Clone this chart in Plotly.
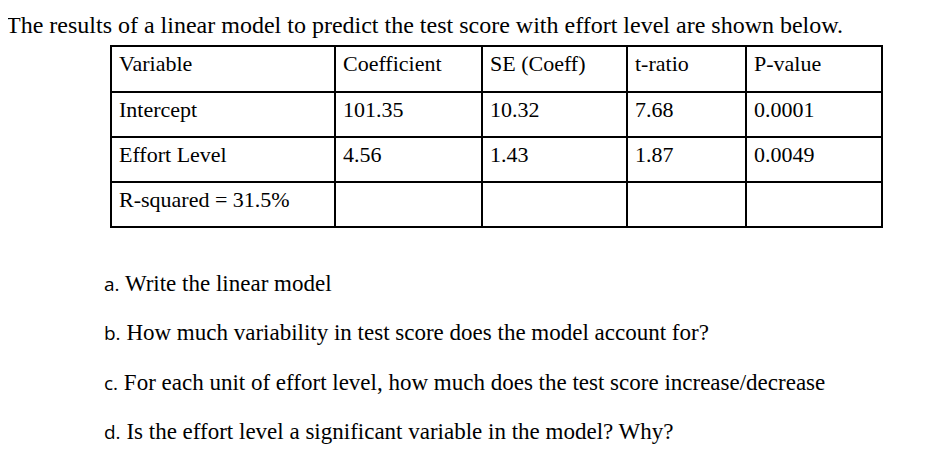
import plotly.graph_objects as go

W, H = 949, 451

title = "The results of a linear model to predict the test score with effort level are shown below."
headers = ["Variable", "Coefficient", "SE (Coeff)", "t-ratio", "P-value"]
variables = ["Intercept", "Effort Level", "R-squared = 31.5%"]
coefficients = ["101.35", "4.56", ""]
se_coeff = ["10.32", "1.43", ""]
t_ratios = ["7.68", "1.87", ""]
p_values = ["0.0001", "0.0049", ""]
col_widths = [224, 147, 145, 119, 136]

letters = ["a.", "b.", "c.", "d."]
questions = [
    "Write the linear model",
    "How much variability in test score does the model account for?",
    "For each unit of effort level, how much does the test score increase/decrease",
    "Is the effort level a significant variable in the model? Why?",
]

serif = "Liberation Serif"

fig = go.Figure(go.Table(
    domain=dict(x=[103 / W, 874 / W], y=[0, 1 - 38 / H]),
    columnwidth=col_widths,
    header=dict(values=headers, height=46, align="left",
                line=dict(color="black", width=2), fill_color="white",
                font=dict(family=serif, size=22, color="black")),
    cells=dict(values=[variables, coefficients, se_coeff, t_ratios, p_values],
               height=45, align="left",
               line=dict(color="black", width=2), fill_color="white",
               font=dict(family=serif, size=22, color="black")),
))

fig.add_annotation(x=-4 / W, y=1 - 17 / H, text=title, showarrow=False,
                   xanchor="left", yanchor="middle", xref="paper", yref="paper",
                   font=dict(family=serif, size=24, color="black"))

for i, (l, q) in enumerate(zip(letters, questions)):
    fig.add_annotation(
        x=94 / W, y=1 - (276 + 49.3 * i) / H, xref="paper", yref="paper",
        text=f"<span style='font-family:Open Sans;font-size:19px'>{l}</span> {q}",
        showarrow=False, xanchor="left", yanchor="middle",
        font=dict(family=serif, size=23, color="black"))

fig.update_layout(width=W, height=H, margin=dict(l=0, r=0, t=0, b=0),
                  paper_bgcolor="white", plot_bgcolor="white")

fig.write_html("out.html")
